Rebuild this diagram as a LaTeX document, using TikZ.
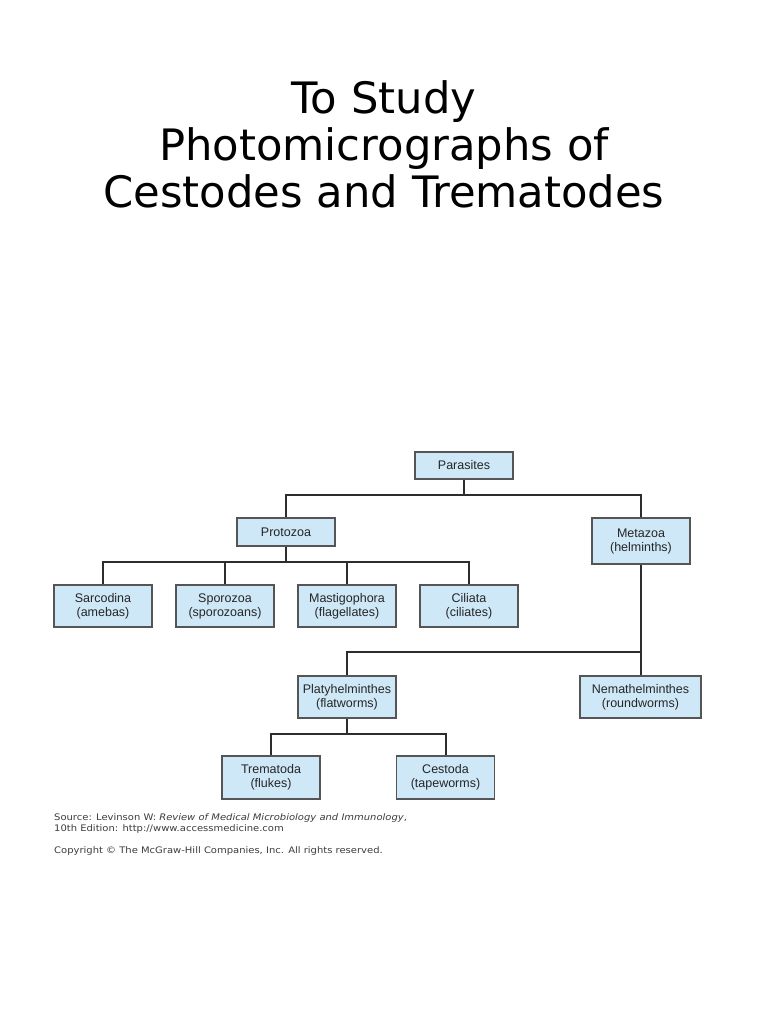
\documentclass[tikz,border=0pt]{standalone}
\usepackage{fontspec}
\setmainfont{Liberation Sans}
\newfontfamily\titlefont{DejaVu Sans}
\newfontfamily\srcfont[FakeStretch=1.11]{DejaVu Sans}
\definecolor{boxfill}{RGB}{206,232,247}
\definecolor{boxline}{RGB}{85,85,85}
\definecolor{conn}{RGB}{45,45,45}
\definecolor{srcgray}{RGB}{60,60,60}
\begin{document}
\begin{tikzpicture}[x=1pt,y=-1pt,
  taxbox/.style={draw=boxline,fill=boxfill,line width=1.3pt,inner sep=0pt,
    minimum width=98pt,align=center,font=\fontsize{12.5}{14}\selectfont,text=black!85},
  conline/.style={draw=conn,line width=2pt},
  titletext/.style={anchor=base,font=\titlefont\fontsize{43.3}{47}\selectfont},
  srctext/.style={anchor=base west,inner sep=0pt,text=srcgray,font=\srcfont\fontsize{9}{10}\selectfont}]
\useasboundingbox (0,0) rectangle (768,1024);
\fill[white] (0,0) rectangle (768,1024);

\node[titletext] (t1) at (384,114) {To Study};
\node[titletext] (t2) at (384,161) {Photomicrographs of};
\node[titletext] (t3) at (384,208) {Cestodes and Trematodes};

\coordinate (b1) at (464,495);
\coordinate (b2) at (286,562);
\coordinate (b3) at (641,652);
\coordinate (b4) at (347,734);

\node[taxbox,minimum height=27pt] (par) at (464,465.5) {Parasites};
\node[taxbox,minimum height=28pt] (pro) at (286,532) {Protozoa};
\node[taxbox,minimum height=46pt] (met) at (641,541) {Metazoa\\(helminths)};
\node[taxbox,minimum height=42pt] (sar) at (103,606) {Sarcodina\\(amebas)};
\node[taxbox,minimum height=42pt] (spo) at (225,606) {Sporozoa\\(sporozoans)};
\node[taxbox,minimum height=42pt] (mas) at (347,606) {Mastigophora\\(flagellates)};
\node[taxbox,minimum height=42pt] (cil) at (469,606) {Ciliata\\(ciliates)};
\node[taxbox,minimum height=42pt] (pla) at (347,697) {Platyhelminthes\\(flatworms)};
\node[taxbox,minimum height=42pt,minimum width=121pt] (nem) at (640.5,697) {Nemathelminthes\\(roundworms)};
\node[taxbox,minimum height=43pt] (tre) at (271,777.5) {Trematoda\\(flukes)};
\node[taxbox,minimum height=43pt] (ces) at (445.5,777.5) {Cestoda\\(tapeworms)};

\draw[conline] (par.south) -- (b1);
\draw[conline] (pro.north) |- (b1) -| (met.north);
\draw[conline] (pro.south) -- (b2);
\draw[conline] (sar.north) |- (b2) -| (cil.north);
\draw[conline] (spo.north) -- (spo.north |- b2);
\draw[conline] (mas.north) -- (mas.north |- b2);
\draw[conline] (met.south) -- (b3);
\draw[conline] (pla.north) |- (b3) -| (nem.north);
\draw[conline] (pla.south) -- (b4);
\draw[conline] (tre.north) |- (b4) -| (ces.north);

\node[srctext] (s1) at (54,820) {Source: Levinson W: \textit{Review of Medical Microbiology and Immunology},};
\node[srctext] (s2) at (54,831.5) {10th Edition: http://www.accessmedicine.com};
\node[srctext] (s3) at (54,853) {Copyright \textcopyright{} The McGraw-Hill Companies, Inc. All rights reserved.};
\end{tikzpicture}
\end{document}
